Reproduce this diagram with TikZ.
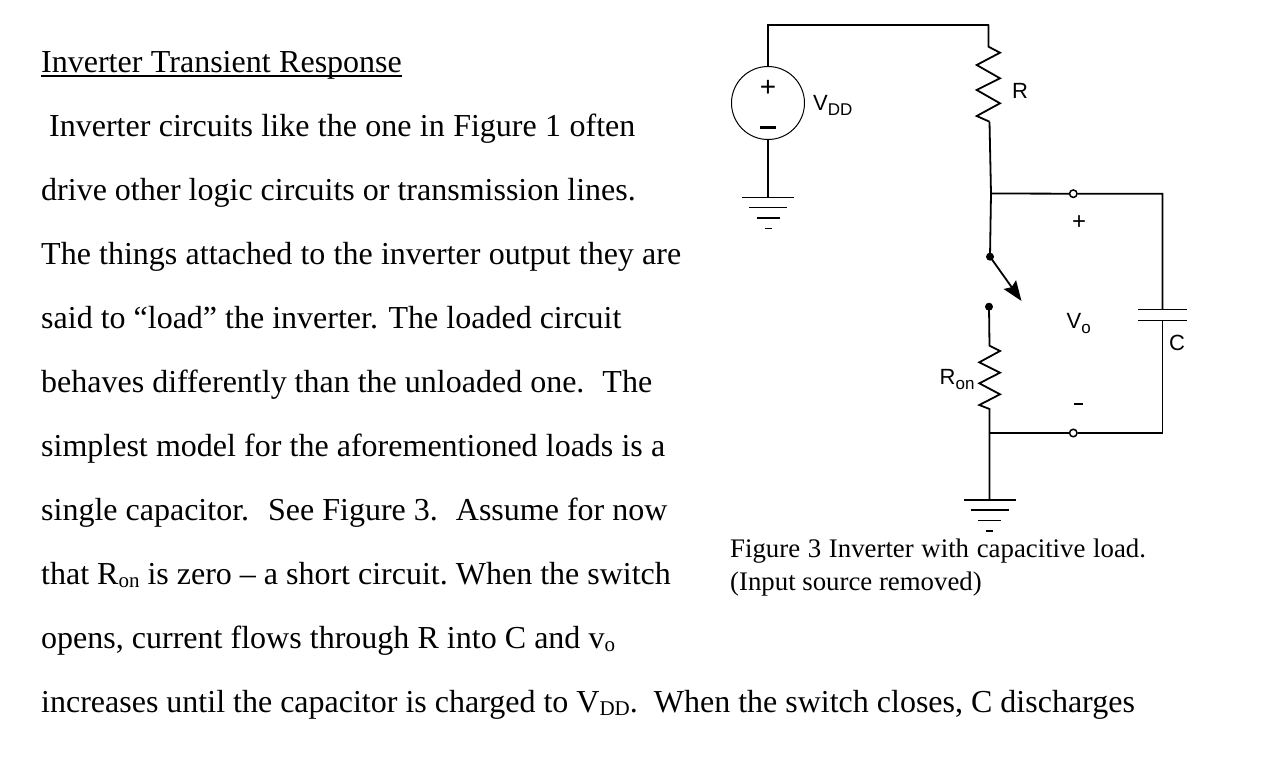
\documentclass[tikz,border=0pt]{standalone}
\usepackage{fontspec}
\setmainfont{Liberation Serif}
\newfontfamily\labelfont{Liberation Sans}
\usetikzlibrary{arrows.meta}

\tikzset{
  wire/.style={line width=1.8pt},
  thin wire/.style={line width=1.3pt},
  para/.style={anchor=base west,inner sep=0pt,font=\fontsize{32}{32}\selectfont},
  caption/.style={anchor=base west,inner sep=0pt,font=\fontsize{26.8}{26.8}\selectfont},
  lab/.style={anchor=base west,inner sep=0pt,font=\labelfont\fontsize{22}{22}\selectfont},
  sign/.style={inner sep=0pt,font=\labelfont\fontsize{24}{24}\selectfont},
  dot/.style={circle,fill=black,inner sep=0pt,minimum size=8pt},
  terminal/.style={circle,draw,fill=white,line width=1.5pt,inner sep=0pt,minimum size=7.5pt},
}
\newcommand{\lowered}[3]{\raisebox{#1pt}{\fontsize{#2}{#2}\selectfont #3}}
\newcommand{\gnd}[1]{
  \draw[thin wire] ([xshift=-26pt]#1) -- ([xshift=26pt]#1);
  \draw[thin wire] ([xshift=-19pt,yshift=-10pt]#1) -- ([xshift=19pt,yshift=-10pt]#1);
  \draw[thin wire] ([xshift=-11.5pt,yshift=-20.5pt]#1) -- ([xshift=11.5pt,yshift=-20.5pt]#1);
  \draw[thin wire] ([xshift=-3.5pt,yshift=-31pt]#1) -- ([xshift=3.5pt,yshift=-31pt]#1);
}

\begin{document}
\begin{tikzpicture}[x=1pt,y=-1pt]
\useasboundingbox (0,0) rectangle (1280,774);

% text column
\node[para] (title) at (41,72) {\spaceskip=8.5pt Inverter Transient Response};
\draw[line width=1.2pt] ([yshift=-4pt]title.base west) -- ([yshift=-4pt]title.base east);
\node[para] (l1) at (49,136) {\spaceskip=8.4pt Inverter circuits like the one in Figure 1 often};
\node[para] (l2) at (41,200) {drive other logic circuits or transmission lines.};
\node[para] (l3) at (41,264) {\spaceskip=8.25pt The things attached to the inverter output they are};
\node[para] (l4) at (41,328) {said to “load” the inverter. The loaded circuit};
\node[para] (l5) at (41,392) {behaves differently than the unloaded one.\hspace{18pt}The};
\node[para] (l6) at (41,456) {\spaceskip=8.15pt simplest model for the aforementioned loads is a};
\node[para] (l7) at (41,520) {single capacitor.\hspace{19pt}See Figure 3.\hspace{18pt}Assume for now};
\node[para] (l8) at (41,584) {that R\lowered{-3}{21}{on} is zero – a short circuit.\ When the switch};
\node[para] (l9) at (41,648) {\spaceskip=8.1pt opens, current flows through R into C and v\lowered{-3}{21}{o}};
\node[para] (l10) at (41,712) {increases until the capacitor is charged to V\lowered{-3}{21}{DD}.\ \ When the switch closes, C discharges};

% caption
\node[caption] (cap1) at (730,557.5) {\spaceskip=7.7pt Figure 3 Inverter with capacitive load.};
\node[caption] (cap2) at (730,590) {(Input source removed)};

% source
\node[circle,draw,line width=1pt,inner sep=0pt,minimum size=73pt] (vdd) at (768,103) {};
\node[sign,font=\labelfont\fontsize{28}{28}\selectfont] (vp) at (768,88.5) {+};
\node[sign] (vm) at (768,127.5) {\rule{16pt}{2.4pt}};
\node[lab] (vlab) at (813,110) {V\lowered{-5}{17}{DD}};
\coordinate (gl) at (768,197.5);
\coordinate (tl) at (768,24.7);
\coordinate (tr) at (988.5,24.7);
\draw[wire] (vdd.north) -- (tl) -- (tr);
\draw[wire] (vdd.south) -- (gl);
\gnd{gl}

% pull-up resistor
\coordinate (rtop) at (988.5,46.7);
\coordinate (rbot) at (989.5,121.7);
\draw[wire] (tr) -- (rtop) -- (1000,52.7) -- (976.7,65) -- (1000,78.3) -- (976.7,90)
  -- (1000,103.3) -- (976.7,116) -- (rbot);
\node[lab] (rlab) at (1012,98) {R};

% switch
\coordinate (out) at (991,193.5);
\node[dot] (sa) at (990,256.7) {};
\node[dot] (sb) at (989,306.7) {};
\coordinate (tip) at (1021.5,301);
\draw[wire] (rbot) -- (out) -- (sa.center);
\draw[wire,-{Stealth[length=20pt,width=15pt,inset=3pt]}] (sa.center) -- (tip);

% pull-down resistor
\coordinate (ontop) at (989.5,345.7);
\coordinate (onbot) at (989.5,409);
\coordinate (low) at (989.5,433);
\coordinate (gr) at (989.5,500);
\draw[wire] (sb.center) -- (ontop) -- (1000,351) -- (979.3,362.3) -- (1000,372.7) -- (979.3,383.3)
  -- (1000,394.3) -- (979.3,405) -- (onbot) -- (low) -- (gr);
\gnd{gr}
\node[lab] (ronlab) at (939.5,384) {R\lowered{-5}{17}{on}};

% output and load
\node[terminal] (tp) at (1073.3,193.7) {};
\node[terminal] (tm) at (1073.3,433) {};
\coordinate (cr) at (1162.5,193.7);
\coordinate (br) at (1162.5,433);
\coordinate (ca) at (1162.5,309.5);
\coordinate (cb) at (1162.5,320.7);
\draw[wire] (out) -- (tp) -- (cr) -- (ca);
\draw[wire] (cb) -- (br) -- (tm) -- (low);
\draw[thin wire] (1138,309.5) -- (1187,309.5);
\draw[thin wire] (1138,320.7) -- (1187,320.7);
\node[lab] (clab) at (1169,350) {C};
\node[sign] (op) at (1079,223) {+};
\node[sign] (om) at (1078.7,404.3) {\rule{9pt}{2.2pt}};
\node[lab] (vo) at (1066.5,328) {V\lowered{-5}{17}{o}};
\end{tikzpicture}
\end{document}
